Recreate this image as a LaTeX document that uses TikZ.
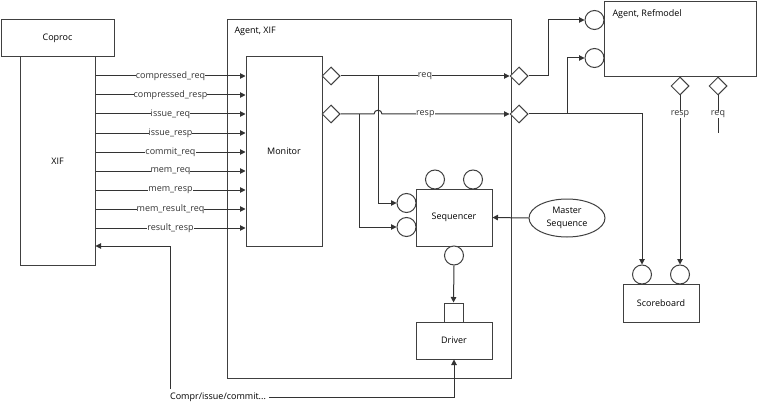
\documentclass[tikz,border=0pt]{standalone}
\usepackage{fontspec}
\setmainfont{Open Sans}
\usetikzlibrary{shapes.geometric,arrows.meta}

\begin{document}
\begin{tikzpicture}[
x=1pt, y=-1pt,
every node/.style={font=\fontsize{9}{10}\selectfont},
kasten/.style={rectangle, draw=black!75, line width=1pt, fill=white, inner sep=0pt},
kreis/.style={circle, draw=black!75, line width=1pt, fill=white, minimum size=19pt, inner sep=0pt},
raute/.style={diamond, draw=black!75, line width=1pt, fill=white, minimum size=18pt, inner sep=0pt},
linie/.style={black!80, line width=1pt},
pfeil/.style={linie, -{Triangle[length=5.5pt,width=5.5pt]}},
schild/.style={fill=white, inner sep=0pt},
]
\useasboundingbox (0,0) rectangle (757,409);

\node[kasten, minimum width=284pt, minimum height=358pt] (agx) at (369,199) {};
\node[anchor=north west] (agxt) at (231,24) {Agent, XIF};
\node[kasten, minimum width=113pt, minimum height=37pt] (coproc) at (57.5,38.5) {Coproc};
\node[kasten, minimum width=75pt, minimum height=208pt] (xif) at (57.5,161) {XIF};
\node[kasten, minimum width=76pt, minimum height=189pt] (mon) at (284,151.5) {Monitor};
\node[kasten, minimum width=76pt, minimum height=57pt] (seq) at (454,217.5) {Sequencer};
\node[kasten, minimum width=76pt, minimum height=37pt] (drv) at (454,340.5) {Driver};
\node[kasten, minimum size=19pt] (drvp) at (453.5,312.5) {};
\node[kasten, minimum width=152pt, minimum height=75pt] (ref) at (680,39.5) {};
\node[anchor=north west] (reft) at (609,6) {Agent, Refmodel};
\node[kasten, minimum width=76pt, minimum height=38pt] (score) at (661,303) {Scoreboard};
\node[ellipse, draw=black!75, line width=1pt, minimum width=76pt, minimum height=38pt, inner sep=0pt, align=center, font=\fontsize{9}{12.5}\selectfont] (master) at (567,218) {Master\\Sequence};
\node (compr) at (218,397) {Compr/issue/commit...};

\node[kreis] (sl1) at (406.5,203) {};
\node[kreis] (sl2) at (406.5,227) {};
\node[kreis] (st1) at (435,179.5) {};
\node[kreis] (st2) at (473,179.5) {};
\node[kreis] (sb) at (454,255.5) {};
\node[kreis] (rl1) at (594.5,20) {};
\node[kreis] (rl2) at (594.5,58) {};
\node[kreis] (sc1) at (642,274.5) {};
\node[kreis] (sc2) at (680,274.5) {};

\node[raute] (md1) at (331,76) {};
\node[raute] (md2) at (331,114) {};
\node[raute] (ad1) at (519,76) {};
\node[raute] (ad2) at (519,114) {};
\node[raute] (rd1) at (680,86) {};
\node[raute] (rd2) at (718,86) {};

\coordinate (j1) at (378,76);
\coordinate (j2) at (359,114);
\coordinate (j3) at (567,114);
\coordinate (reqend) at (718,133);

\foreach \y/\t in {76/compressed\_req, 95/compressed\_resp, 114/issue\_req, 133/issue\_resp, 152/commit\_req, 171/mem\_req, 190/mem\_resp, 209/mem\_result\_req, 228/result\_resp}
  \draw[pfeil] (xif.east |- 0,\y) -- (mon.west |- 0,\y) node[midway, schild] {\t};

\draw[pfeil] (md1.east) -- (ad1.west) node[midway, schild] {req};
\draw[pfeil] (md2.east) -- (374,114) .. controls (374,109) and (382,109) .. (382,114) -- (ad2.west) node[pos=0.34, schild] {resp};
\draw[pfeil] (j1) |- (sl1.west);
\draw[pfeil] (j2) |- (sl2.west);

\draw[pfeil] (ad1.east) -- ++(20,0) |- (rl1.west);
\draw[pfeil] (ad2.east) -| (sc1.north);
\draw[pfeil] (j3) |- (rl2.west);
\draw[pfeil] (rd1.south) -- (sc2.north) node[pos=0.11, schild] {resp};
\draw[linie] (rd2.south) -- (reqend) node[midway, schild] {req};

\draw[pfeil] (sb.south) -- (drvp.north);
\draw[pfeil] (master.west) -- (seq.east);

\draw[pfeil] ([xshift=4pt]compr.north west) |- (xif.east |- 0,246);
\draw[pfeil] (compr.east) -| (drv.south);

\end{tikzpicture}
\end{document}
